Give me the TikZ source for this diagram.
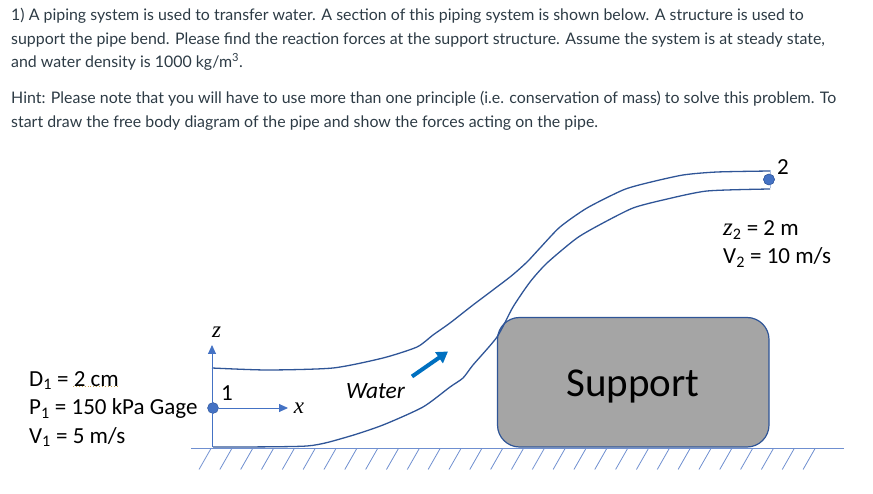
\documentclass[tikz,border=0pt]{standalone}
\usepackage{fontspec}
\setmainfont{Lato}
\newfontfamily\labelfont{Carlito}
\newfontfamily\varfont{Liberation Serif}
\usetikzlibrary{arrows.meta}
\definecolor{pipeblue}{HTML}{2F5597}
\definecolor{axisblue}{HTML}{4472C4}
\definecolor{groundblue}{HTML}{6F8FD0}
\definecolor{flowblue}{HTML}{0070C0}
\definecolor{bodytext}{HTML}{2D3B45}
\definecolor{supportgray}{HTML}{A5A5A5}
\definecolor{spellorange}{HTML}{C9A24A}
\tikzset{
  para/.style={anchor=base west,inner sep=0pt,text=bodytext,font=\fontsize{15.92}{18}\selectfont},
  lab/.style={anchor=base west,inner sep=0pt,text=black,font=\labelfont\fontsize{23}{28}\selectfont},
  varlab/.style={inner sep=0pt,text=black,font=\varfont\itshape\fontsize{23}{26}\selectfont},
  pipeline/.style={draw=pipeblue,line width=1.3pt,line join=round},
  axisline/.style={draw=axisblue,line width=0.9pt,-{Triangle[length=9pt,width=8pt]}},
  hatchline/.style={draw=groundblue,line width=0.8pt},
  sensor/.style={circle,fill=axisblue,draw=pipeblue,line width=0.4pt,minimum size=11pt,inner sep=0pt}
}
\newcommand{\subs}[1]{\textsubscript{#1}}
\begin{document}
\begin{tikzpicture}[x=1pt,y=-1pt]
\useasboundingbox (0,0) rectangle (873,494);
% problem text
\node[para] (l1) at (11,21) {1) A piping system is used to transfer water. A section of this piping system is shown below. A structure is used to};
\node[para] (l2) at (11,44.5) {support the pipe bend. Please find the reaction forces at the support structure. Assume the system is at steady state,};
\node[para] (l3) at (11,67.5) {and water density is 1000 kg/m\textsuperscript{3}.};
\node[para] (l4) at (11,104) {Hint: Please note that you will have to use more than one principle (i.e. conservation of mass) to solve this problem. To};
\node[para] (l5) at (11,128) {start draw the free body diagram of the pipe and show the forces acting on the pipe.};
% ground
\coordinate (gl) at (191,448.5);
\coordinate (gr) at (844,448.5);
\draw[hatchline] (gl) -- (gr);
\foreach \i in {0,...,29}{
  \draw[hatchline] ({211+20.83*\i},448.5) -- ({199+20.83*\i},469.5);
}
% support
\node[draw=pipeblue,fill=supportgray,line width=1.2pt,rounded corners=22pt,minimum width=271.5pt,minimum height=129.5pt,inner sep=0pt,outer sep=0pt] (support) at (633.25,382.25) {};
\node[anchor=base,inner sep=0pt,font=\labelfont\fontsize{41}{44}\selectfont] (supporttext) at (633,396) {Support};
% pipe
\draw[pipeline] plot[smooth,tension=0.4] coordinates {(212,368) (267,370) (333,368) (383,358) (417,347) (433,335) (450,323) (473,305) (510,277) (527,262) (540,248) (560,227) (587,208) (623,190) (647,183) (683,175) (717,172) (770,171)};
\draw[pipeline] plot[smooth,tension=0.4] coordinates {(213,447) (307,446) (347,437) (383,425) (423,407) (450,387) (463,378) (473,365) (497,337) (513,307) (530,282) (547,263) (577,238) (603,223) (633,208) (663,200) (707,191) (770,189)};
% axes
\node[sensor] (p1) at (213,408) {};
\node[sensor] (p2) at (769,179.5) {};
\coordinate (zorigin) at (212,447);
\coordinate (ztip) at (212,345);
\coordinate (xtip) at (288,408);
\draw[axisline] (zorigin) -- (ztip);
\draw[axisline] (p1) -- (xtip);
\draw[draw=axisblue!45,line width=0.6pt] (p2.center) ++(1,-9) coordinate (c2a) -- ++(0,18) coordinate (c2b);
\node[sensor] at (p2) {};
% flow arrow
\coordinate (fa) at (412,376.5);
\coordinate (fb) at (448,351.5);
\draw[draw=flowblue,line width=4pt,-{Triangle[length=11pt,width=13pt]}] (fa) -- (fb);
% labels
\node[varlab] (zlab) at (216.5,332) {z};
\node[varlab] (xlab) at (299,408.5) {x};
\node[lab] (one) at (221,400) {1};
\node[lab] (two) at (777,174.5) {2};
\node[lab,font=\labelfont\itshape\fontsize{23.4}{26}\selectfont] (water) at (346,398) {Water};
\node[lab] (d1) at (29,386) {D\subs{1} = 2 cm};
\node[lab] (pp1) at (29,414.5) {P\subs{1} = 150 kPa Gage};
\node[lab] (v1) at (29,443) {V\subs{1} = 5 m/s};
\coordinate (ua) at (73,386.5);
\coordinate (ub) at (118,386.5);
\draw[draw=spellorange,line width=0.9pt,dotted] (ua) -- (ub);
\node[lab] (z2) at (723,236) {{\varfont\itshape\fontsize{25}{28}\selectfont z}\subs{2} = 2 m};
\node[lab] (v2) at (723,263.5) {V\subs{2} = 10 m/s};
\end{tikzpicture}
\end{document}
